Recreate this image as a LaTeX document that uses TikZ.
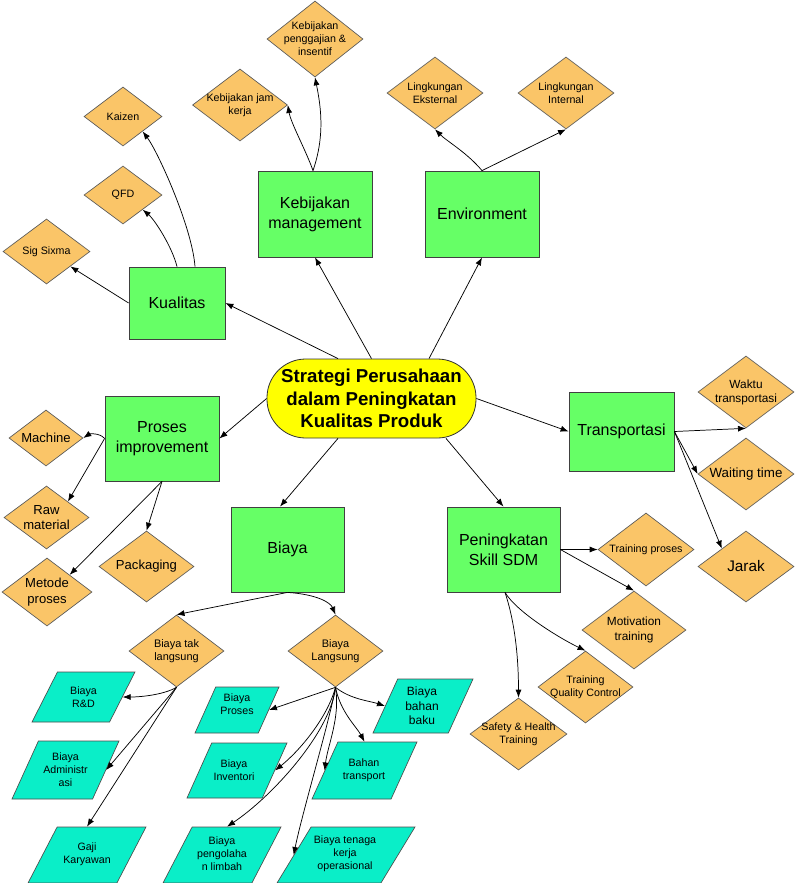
\documentclass[tikz,border=0pt]{standalone}
\usepackage{fontspec}
\setmainfont{Liberation Sans}
\usetikzlibrary{shapes.geometric,arrows.meta,calc}
\definecolor{boxgreen}{RGB}{102,255,102}
\definecolor{diaorange}{RGB}{250,197,104}
\definecolor{paracyan}{RGB}{10,238,200}
\definecolor{centreyellow}{RGB}{255,255,0}
\newcommand{\dnode}[8]{%
  \node[dbox, minimum width=#4*0.75pt, minimum height=#5*0.75pt] (#1) at (#2,#3) {};
  \node[font=\fontsize{#6}{#7}\selectfont, align=center, inner sep=0pt] (#1t) at (#1) {#8};}
\newcommand{\pnode}[8]{%
  \node[pbox, minimum width=#4*0.75pt, minimum height=#5*0.75pt] (#1) at (#2,#3) {};
  \node[font=\fontsize{8}{9.8}\selectfont, align=center, inner sep=0pt] (#1t) at (#6,#7) {#8};}
\begin{document}
\begin{tikzpicture}[x=0.75pt,y=-0.75pt,
  gbox/.style={rectangle, draw=black!75, line width=0.6pt, fill=boxgreen, align=center,
    font=\fontsize{12}{15}\selectfont, inner sep=1pt},
  ctr/.style={rectangle, rounded corners=29pt, draw=black!80, line width=0.6pt, fill=centreyellow,
    align=center, font=\fontsize{14}{16.9}\selectfont\bfseries, minimum width=156.75pt, minimum height=59.25pt},
  dbox/.style={diamond, draw=black!65, line width=0.5pt, fill=diaorange, inner sep=1pt},
  pbox/.style={trapezium, trapezium left angle=64, trapezium right angle=116, trapezium stretches=true,
    draw=black!70, line width=0.5pt, fill=paracyan, inner sep=2pt},
  arr/.style={-{Latex[length=6pt,width=4.5pt]}, line width=0.55pt, black}]
\useasboundingbox (0,0) rectangle (795,883);

% main boxes
\node[gbox, minimum width=85.5pt, minimum height=64.5pt] (km) at (315,214) {Kebijakan\\management};
\node[gbox, minimum width=85.5pt, minimum height=64.5pt] (env) at (482,214) {Environment};
\node[gbox, minimum width=72pt, minimum height=54pt] (kual) at (177,303) {Kualitas};
\node[gbox, minimum width=85.5pt, minimum height=63.75pt] (pi) at (162,438.5) {Proses\\improvement};
\node[gbox, minimum width=84.75pt, minimum height=63.75pt] (biaya) at (287.5,549.5) {Biaya};
\node[gbox, minimum width=78.75pt, minimum height=59.25pt] (trans) at (621.5,431.5) {Transportasi};
\node[gbox, minimum width=84.75pt, minimum height=63.75pt] (sdm) at (503.5,549.5) {Peningkatan\\Skill SDM};
\node[ctr] (c) at (371.5,398.5) {Strategi Perusahaan\\dalam Peningkatan\\Kualitas Produk};

% diamonds
\dnode{dpeng}{315}{39}{96}{76}{8}{9.8}{Kebijakan\\penggajian \&\\insentif}
\dnode{djam}{240}{105}{95}{72}{8}{9.6}{Kebijakan jam\\kerja}
\dnode{dkai}{123}{116.5}{78}{59}{8}{9.6}{Kaizen}
\dnode{dqfd}{123}{195}{78}{58}{8}{9.6}{QFD}
\dnode{dsig}{46.5}{251.5}{87}{65}{8}{9.6}{Sig Sixma}
\dnode{dlext}{435}{93}{96}{72}{8}{9.6}{Lingkungan\\Eksternal}
\dnode{dlint}{566}{93}{96}{72}{8}{9.6}{Lingkungan\\Internal}
\dnode{dmach}{46}{438}{74}{56}{9.8}{11.3}{Machine}
\dnode{drm}{46.5}{517.5}{85}{63}{9.8}{11.3}{Raw\\material}
\dnode{dpack}{146.5}{566.5}{95}{71}{9.8}{11.3}{Packaging}
\dnode{dmet}{47}{592}{90}{68}{9.8}{12.5}{Metode\\proses}
\dnode{dwak}{746}{392}{96}{72}{8.9}{10.5}{Waktu\\transportasi}
\dnode{dwait}{746}{474}{96}{72}{10}{12}{Waiting time}
\dnode{djar}{746}{566.5}{96}{71}{11.5}{13}{Jarak}
\dnode{dtp}{646}{549.5}{96}{73}{8}{9.6}{Training proses}
\dnode{dmot}{634}{630}{104}{78}{8.9}{10.7}{Motivation\\training}
\dnode{dtqc}{585.5}{687}{95}{72}{8}{9.6}{Training\\Quality Control}
\dnode{dsafe}{518.5}{734}{97}{72}{8}{9.6}{Safety \& Health\\Training}
\dnode{dtak}{176.5}{651}{95}{72}{8.2}{9.8}{Biaya tak\\langsung}
\dnode{dlang}{335.5}{651}{95}{72}{8.2}{9.8}{Biaya\\Langsung}

% parallelograms
\pnode{prd}{83.5}{697}{103}{50}{83.5}{697}{Biaya\\R\&D}
\pnode{padm}{65.5}{770}{107}{58}{65.5}{770}{Biaya\\Administr\\asi}
\pnode{pgaji}{87}{855}{118}{56}{87}{854}{Gaji\\Karyawan}
\pnode{ppro}{237}{710}{84}{46}{237}{704}{Biaya\\Proses}
\pnode{pinv}{237}{770.5}{100}{55}{234}{770}{Biaya\\Inventori}
\pnode{plim}{222}{855}{118}{56}{222}{854}{Biaya\\pengolaha\\n limbah}
\pnode{pten}{346}{855}{138}{56}{345}{854}{Biaya tenaga\\kerja\\operasional}
\pnode{pbhn}{364.5}{770.5}{105}{57}{364}{770}{Bahan\\transport}
\node[pbox, minimum width=75pt, minimum height=40.5pt] (pbaku) at (423,706) {};
\node[font=\fontsize{9}{11}\selectfont, align=center, inner sep=0pt] (pbakut) at (422,706) {Biaya\\bahan\\baku};

% centre connectors
\draw[arr] ($(c.north)+(-33.5,0)$) -- (kual.east);
\draw[arr] (c.north) -- (km.south);
\draw[arr] ($(c.north)+(57.5,0)$) -- (env.south);
\draw[arr] (c.west) -- (pi.east);
\draw[arr] ($(c.south)+(-33.5,0)$) -- ($(biaya.north)+(-7.5,0)$);
\draw[arr] (c.east) -- (trans.west);
\draw[arr] ($(c.south)+(74.5,0)$) -- (sdm.north);

% Kualitas
\draw[arr] (kual.west) -- (dsig);
\draw[arr] (kual.north) .. controls +(-5,-20) and +(12,10) .. (dqfd.south east);
\draw[arr] ($(kual.north)+(18,0)$) .. controls +(-3,-40) and +(15,20) .. (dkai.south east);

% Kebijakan management
\draw[arr] ($(km.north)+(-2,0)$) .. controls +(-7,-20) and +(3,18) .. (djam.east);
\draw[arr] ($(km.north)+(-2,0)$) .. controls +(12,-35) and +(6,30) .. (dpeng.south);

% Environment
\draw[arr] (env.north) .. controls +(-15,-18) and +(12,12) .. (dlext.south);
\draw[arr] (env.north) -- (dlint.south);

% Proses improvement
\draw[arr] (pi.west) .. controls +(-5,-6) and +(6,-4) .. (dmach.east);
\draw[arr] (pi.west) -- (drm.north east);
\draw[arr] (pi.south) -- (dmet.north east);
\draw[arr] (pi.south) -- (dpack.north);

% Biaya
\draw[arr] (biaya.south) -- (dtak.north);
\draw[arr] (biaya.south) .. controls +(30,2) and +(-5,-12) .. (dlang.north);

% Biaya tak langsung
\draw[arr] (dtak.south) .. controls +(-12,7) and +(20,0) .. (prd.east);
\draw[arr] (dtak.south) -- (padm.east);
\draw[arr] (dtak.south) -- (pgaji.north);

% Biaya Langsung
\draw[arr] (dlang.south) -- (ppro.east);
\draw[arr] (dlang.south) .. controls +(-8,30) and +(25,-20) .. (pinv.east);
\draw[arr] (dlang.south) .. controls +(-5,45) and +(45,-30) .. ($(plim.north)+(5,0)$);
\draw[arr] (dlang.south) .. controls +(-5,30) and +(8,-40) .. (pten.west);
\draw[arr] (dlang.south) .. controls +(5,30) and +(3,-25) .. (pbhn.west);
\draw[arr] (dlang.south) .. controls +(5,25) and +(-8,-15) .. (pbhn.north);
\draw[arr] (dlang.south) .. controls +(15,12) and +(-15,-5) .. (pbaku.west);

% Transportasi
\draw[arr] (trans.east) -- (dwak.south);
\draw[arr] (trans.east) -- (dwait.west);
\draw[arr] (trans.east) -- (djar.north west);

% Peningkatan Skill SDM
\draw[arr] (sdm.east) -- (dtp.west);
\draw[arr] (sdm.east) -- (dmot.north);
\draw[arr] ($(sdm.south)+(1.5,0)$) .. controls +(12,20) and +(-25,-12) .. (dtqc.north);
\draw[arr] ($(sdm.south)+(1.5,0)$) .. controls +(10,30) and +(0,-40) .. (dsafe.north);
\end{tikzpicture}
\end{document}
